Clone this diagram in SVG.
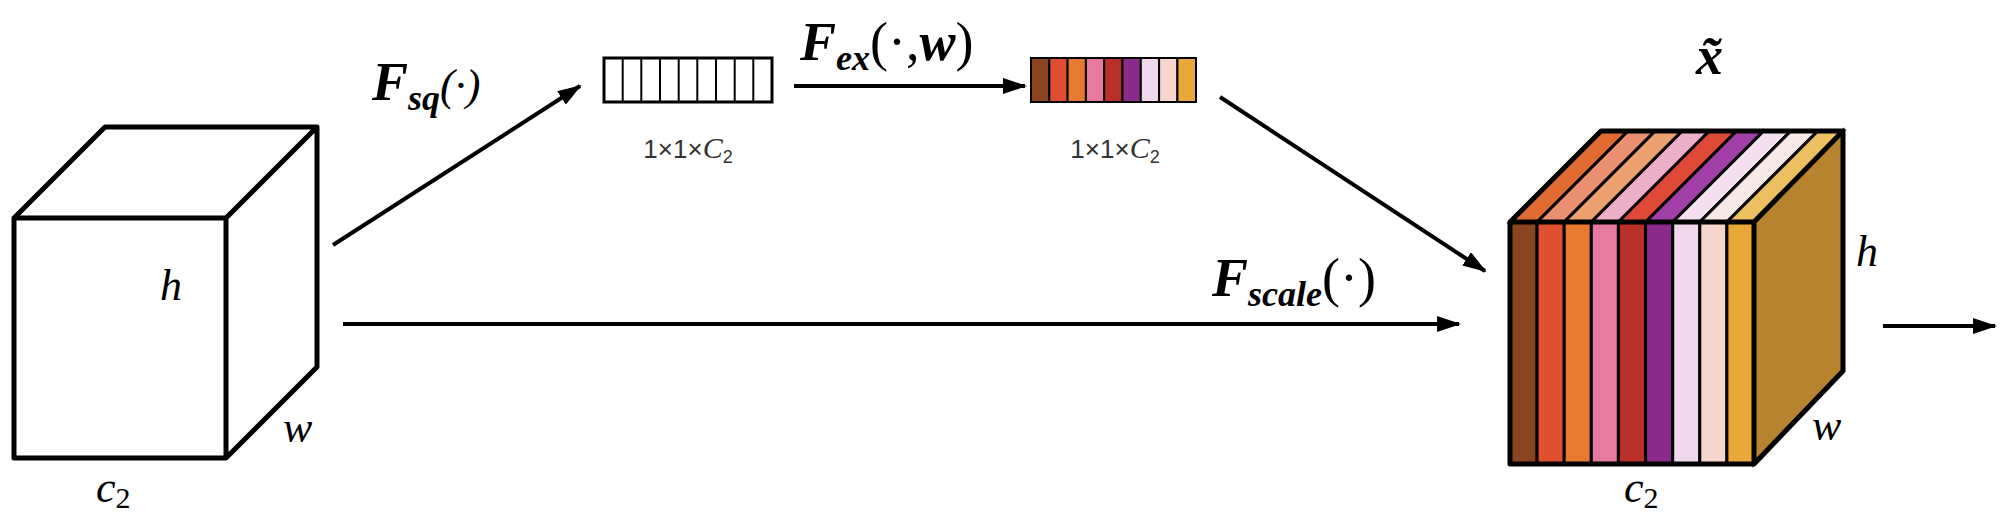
<svg xmlns="http://www.w3.org/2000/svg" width="2000" height="527" viewBox="0 0 2000 527">
<style>
.e{fill:none;stroke:#000;stroke-width:5;stroke-linejoin:round}
.a{stroke:#000;stroke-width:4;fill:none}
.m{font-family:"Liberation Serif",serif;font-style:italic;font-size:44px}
.b{font-family:"Liberation Serif",serif;font-style:italic;font-weight:bold;font-size:54px}
.s{font-family:"Liberation Sans",sans-serif;font-size:26px;fill:#333}
</style>
<defs><marker id="ar" viewBox="0 0 24 16" refX="22" refY="8" markerWidth="24" markerHeight="16" orient="auto" markerUnits="userSpaceOnUse"><path d="M0,0 L24,8 L0,16 z" fill="#000"/></marker></defs>
<g id="input-cube">
<path class="e" fill="#fff" d="M14,218 L105,127 L317,127 L317,367 L226,458 L14,458 Z M14,218 L226,218 L226,458 M226,218 L317,127"/>
<text class="m" x="160" y="300">h</text>
<text class="m" x="283" y="442">w</text>
<text class="m" x="96" y="502">c<tspan font-size="30" dy="6" font-style="normal">2</tspan></text>
</g>
<g id="squeeze-vector">
<rect x="604" y="58" width="168" height="44" fill="#fff" stroke="#000" stroke-width="3"/>
<path stroke="#000" stroke-width="2" d="M622.7,58V102M641.3,58V102M660,58V102M678.7,58V102M697.3,58V102M716,58V102M734.7,58V102M753.3,58V102"/>
<text class="s" x="688" y="158" text-anchor="middle">1×1×<tspan font-family="Liberation Serif" font-style="italic" font-size="30">C</tspan><tspan font-size="18" dy="5">2</tspan></text>
</g>
<g id="excite-vector" stroke="#000" stroke-width="2">
<rect x="1031" y="58" width="18.3" height="44" fill="#8a4420"/>
<rect x="1049.3" y="58" width="18.3" height="44" fill="#e05030"/>
<rect x="1067.6" y="58" width="18.3" height="44" fill="#e87a30"/>
<rect x="1085.9" y="58" width="18.3" height="44" fill="#e87aa0"/>
<rect x="1104.2" y="58" width="18.3" height="44" fill="#b83028"/>
<rect x="1122.5" y="58" width="18.3" height="44" fill="#8a2a8a"/>
<rect x="1140.8" y="58" width="18.3" height="44" fill="#f0d8ec"/>
<rect x="1159.1" y="58" width="18.3" height="44" fill="#f5d5cc"/>
<rect x="1177.4" y="58" width="18.6" height="44" fill="#e8a838"/>
<text class="s" x="1115" y="158" text-anchor="middle" stroke="none">1×1×<tspan font-family="Liberation Serif" font-style="italic" font-size="30">C</tspan><tspan font-size="18" dy="5">2</tspan></text>
</g>
<g id="output-cube" stroke="#000" stroke-width="3">
<path d="M1754,222 L1843,131 L1843,371 L1754,464 Z" fill="#b8832e"/>
<path d="M1510,222 L1601,131 L1628.1,131 L1537.1,222Z" fill="#e06a30"/>
<path d="M1537.1,222 L1628.1,131 L1655.2,131 L1564.2,222Z" fill="#e89070"/>
<path d="M1564.2,222 L1655.2,131 L1682.3,131 L1591.3,222Z" fill="#eca070"/>
<path d="M1591.3,222 L1682.3,131 L1709.4,131 L1618.4,222Z" fill="#eeb0c8"/>
<path d="M1618.4,222 L1709.4,131 L1736.6,131 L1645.6,222Z" fill="#e04838"/>
<path d="M1645.6,222 L1736.6,131 L1763.7,131 L1672.7,222Z" fill="#a040a8"/>
<path d="M1672.7,222 L1763.7,131 L1790.8,131 L1699.8,222Z" fill="#f4e0f0"/>
<path d="M1699.8,222 L1790.8,131 L1817.9,131 L1726.9,222Z" fill="#f8e8e6"/>
<path d="M1726.9,222 L1817.9,131 L1843,131 L1754,222Z" fill="#ecc060"/>
<rect x="1510" y="222" width="27.1" height="242" fill="#8a4420"/>
<rect x="1537.1" y="222" width="27.1" height="242" fill="#e05030"/>
<rect x="1564.2" y="222" width="27.1" height="242" fill="#e87a30"/>
<rect x="1591.3" y="222" width="27.1" height="242" fill="#e87aa0"/>
<rect x="1618.4" y="222" width="27.2" height="242" fill="#b83028"/>
<rect x="1645.6" y="222" width="27.1" height="242" fill="#8a2a8a"/>
<rect x="1672.7" y="222" width="27.1" height="242" fill="#f0d8ec"/>
<rect x="1699.8" y="222" width="27.1" height="242" fill="#f5d5cc"/>
<rect x="1726.9" y="222" width="27.1" height="242" fill="#e8a838"/>
<path class="e" d="M1510,222 L1601,131 L1843,131 L1843,371 L1754,464 L1510,464 Z M1510,222 L1754,222 L1754,464 M1754,222 L1843,131"/>
<g stroke="none">
<text class="b" x="1696" y="74">x̃</text>
<text class="m" x="1856" y="266">h</text>
<text class="m" x="1812" y="440">w</text>
<text class="m" x="1624" y="502">c<tspan font-size="30" dy="6" font-style="normal">2</tspan></text>
</g>
</g>
<g id="connectors">
<line class="a" x1="333" y1="245" x2="580" y2="86" marker-end="url(#ar)"/>
<line class="a" x1="794" y1="86" x2="1025" y2="86" marker-end="url(#ar)"/>
<line class="a" x1="1220" y1="97" x2="1485" y2="271" marker-end="url(#ar)"/>
<line class="a" x1="343" y1="324" x2="1459" y2="324" marker-end="url(#ar)"/>
<line class="a" x1="1883" y1="326" x2="1995" y2="326" marker-end="url(#ar)"/>
<text class="b" x="372" y="100">F<tspan font-size="36" dy="10">sq</tspan><tspan class="m" font-size="50" font-weight="normal" font-style="normal" dy="-10">(·)</tspan></text>
<text class="b" x="800" y="60">F<tspan font-size="36" dy="10">ex</tspan><tspan font-weight="normal" font-style="normal" dy="-10">(·,</tspan><tspan>w</tspan><tspan font-weight="normal" font-style="normal">)</tspan></text>
<text class="b" x="1212" y="296">F<tspan font-size="36" dy="10">scale</tspan><tspan font-weight="normal" font-style="normal" dy="-10">(·)</tspan></text>
</g>
</svg>
